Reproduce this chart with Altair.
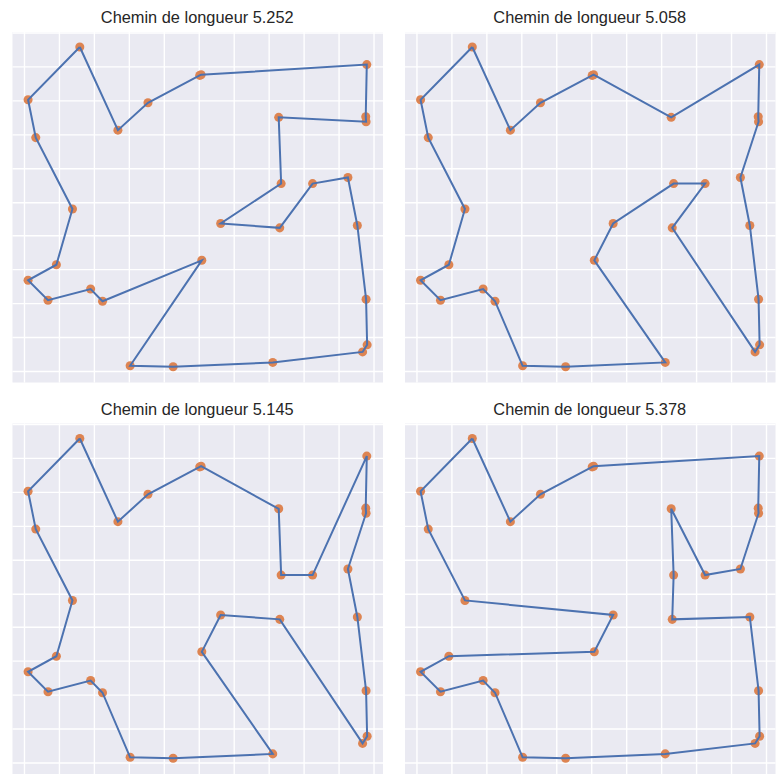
import altair as alt
import pandas as pd

# City coordinates (data units)
city_x = [0.161, 0.013, 0.035, 0.140, 0.094, 0.013, 0.070, 0.192, 0.226, 0.510,
          0.305, 0.428, 0.713, 0.970, 0.983, 0.980, 0.955, 0.928, 0.827, 0.733,
          0.564, 0.737, 0.730, 0.980, 0.979, 0.982, 0.504, 0.508, 0.356, 0.270]
city_y = [0.958, 0.802, 0.690, 0.479, 0.314, 0.268, 0.209, 0.242, 0.206, 0.327,
          0.015, 0.012, 0.025, 0.056, 0.077, 0.212, 0.430, 0.572, 0.554, 0.423,
          0.436, 0.554, 0.750, 0.737, 0.752, 0.906, 0.874, 0.876, 0.793, 0.712]

# Visiting order of each tour (indices into the city lists)
tour_1 = [0, 1, 2, 3, 4, 5, 6, 7, 8, 9, 10, 11, 12, 13, 14, 15, 16, 17, 18, 19,
          20, 21, 22, 23, 24, 25, 27, 26, 28, 29]
tour_2 = [0, 1, 2, 3, 4, 5, 6, 7, 8, 10, 11, 12, 9, 20, 21, 18, 19, 13, 14, 15,
          16, 17, 23, 24, 25, 22, 27, 26, 28, 29]
tour_3 = [0, 1, 2, 3, 4, 5, 6, 7, 8, 10, 11, 12, 9, 20, 19, 13, 14, 15, 16, 17,
          23, 24, 25, 18, 21, 22, 27, 26, 28, 29]
tour_4 = [0, 1, 2, 3, 20, 9, 4, 5, 6, 7, 8, 10, 11, 12, 13, 14, 15, 16, 19, 21,
          22, 18, 17, 23, 24, 25, 27, 26, 28, 29]
tours = [tour_1, tour_2, tour_3, tour_4]

titles = ["Chemin de longueur 5.252", "Chemin de longueur 5.058",
          "Chemin de longueur 5.145", "Chemin de longueur 5.378"]

grid_values = [0.0, 0.1, 0.2, 0.3, 0.4, 0.5, 0.6, 0.7, 0.8, 0.9, 1.0]

X_DOMAIN = [-0.033, 1.027]
Y_DOMAIN = [-0.033, 1.004]


def panel(k):
    order = tours[k] + [tours[k][0]]
    path = pd.DataFrame({
        "x": [city_x[i] for i in order],
        "y": [city_y[i] for i in order],
        "step": list(range(len(order))),
    })
    pts = pd.DataFrame({"x": city_x, "y": city_y})
    ax = alt.Axis(values=grid_values, labels=False, ticks=False, domain=False, title=None)
    xenc = alt.X("x:Q", scale=alt.Scale(domain=X_DOMAIN, nice=False, zero=False), axis=ax)
    yenc = alt.Y("y:Q", scale=alt.Scale(domain=Y_DOMAIN, nice=False, zero=False), axis=ax)
    points = alt.Chart(pts).mark_circle(size=82, color="#DD8452", opacity=1).encode(x=xenc, y=yenc)
    line = alt.Chart(path).mark_line(color="#4C72B0", strokeWidth=2).encode(
        x=xenc, y=yenc, order="step:Q")
    return alt.layer(points, line).properties(width=371, height=351, title=titles[k])


chart = alt.vconcat(
    alt.hconcat(panel(0), panel(1), spacing=20),
    alt.hconcat(panel(2), panel(3), spacing=20),
    spacing=18,
).properties(
    padding={"left": 3, "top": 1, "right": 0, "bottom": 0}
).configure_axis(
    gridColor="white", gridWidth=1.4, gridOpacity=1
).configure_view(
    fill="#EAEAF2", stroke="transparent"
).configure_title(
    font="Liberation Sans", fontSize=16.4, fontWeight="normal", color="#262626",
    anchor="middle", offset=5, baseline="alphabetic"
)

chart.save("out.html", embed_options={"renderer": "svg", "actions": False})
